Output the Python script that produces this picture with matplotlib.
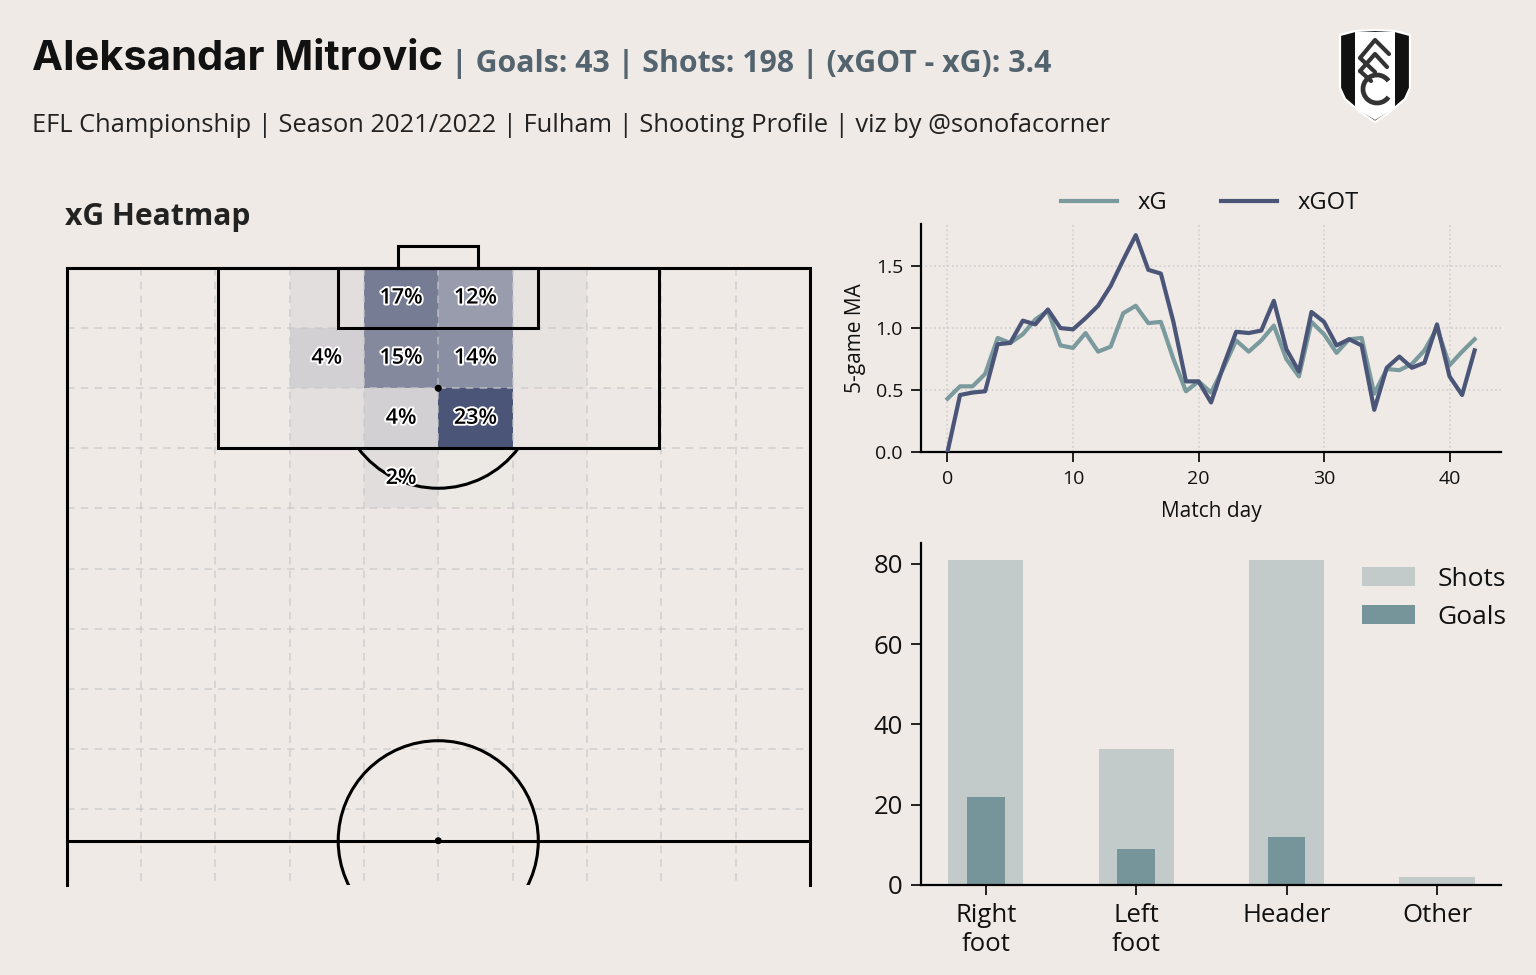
import numpy as np
import matplotlib.pyplot as plt
import matplotlib.patheffects as pe
from matplotlib.colors import LinearSegmentedColormap
from matplotlib.patches import Arc, Circle, Rectangle, Polygon

BG = "#efeae6"
DARK = "#4a5578"
TEAL = "#76959a"
LIGHT = "#c2cbca"
INK = "#111111"

match_day = list(range(43))
xg = [.43, .53, .53, .63, .92, .88, .95, 1.07, 1.14, .86, .84, .96, .81, .85, 1.12, 1.18, 1.04, 1.05, .75, .49, .57,
      .48, .68, .90, .81, .90, 1.02, .75, .61, 1.05, .95, .80, .91, .92, .47, .67, .66, .71, .82, 1.0, .70, .81, .91]
xgot = [0, .46, .48, .49, .87, .88, 1.06, 1.03, 1.15, 1.0, .99, 1.08, 1.18, 1.34, 1.55, 1.75, 1.47, 1.44, 1.05, .57, .57,
        .40, .70, .97, .96, .98, 1.22, .83, .65, 1.13, 1.05, .86, .91, .86, .34, .68, .77, .68, .72, 1.03, .61, .46, .82]

body_parts = ["Right\nfoot", "Left\nfoot", "Header", "Other"]
shots = [81, 34, 81, 2]
goals = [22, 9, 12, 0]

# share of xG per zone, rows go away from goal, columns left to right
heat = [
    [0, 0, 0, 1.9, 17, 12, 1.3, 0, 0, 0],
    [0, 0, 0, 4, 15, 14, 1.1, 0, 0, 0],
    [0, 0, 0, 1.7, 4, 23, 0.8, 0.3, 0, 0],
    [0, 0, 0, 0.6, 2.0, 0.4, 0.5, 0, 0, 0],
    [0, 0, 0.3, 0.3, 0.5, 0.1, 0, 0, 0, 0],
    [0, 0, 0.1, 0.1, 0.1, 0.1, 0.1, 0, 0, 0],
    [0, 0, 0, 0, 0, 0, 0, 0, 0, 0],
    [0, 0, 0, 0, 0, 0, 0, 0, 0, 0],
    [0, 0, 0, 0, 0, 0, 0, 0, 0, 0],
    [0, 0, 0, 0, 0, 0, 0, 0, 0, 0],
]
pitch_w = 68
pitch_h = 56.45
col_w = 6.8
row_h = 5.5

W, H = 1536, 975
plt.rcParams["font.family"] = ["Open Sans", "DejaVu Sans"]
plt.rcParams["text.color"] = INK
plt.rcParams["axes.labelcolor"] = INK
plt.rcParams["xtick.color"] = INK
plt.rcParams["ytick.color"] = INK

fig = plt.figure(figsize=(W / 100, H / 100), dpi=100, facecolor=BG)


def box(left, top, right, bottom):
    return [left / W, 1 - bottom / H, (right - left) / W, (bottom - top) / H]


def head(x, y, s, **kw):
    fig.text(x / W, 1 - y / H, s, va="baseline", **kw)


head(32, 70, "Aleksandar Mitrovic", fontsize=30, fontweight="bold", family=["Inter", "DejaVu Sans"], color="#111111")
head(451, 72, "| Goals: 43 | Shots: 198 | (xGOT - xG): 3.4", fontsize=21.8, fontweight="bold", family=["Open Sans"], color="#53646f")
head(32, 132, "EFL Championship | Season 2021/2022 | Fulham | Shooting Profile | viz by @sonofacorner", fontsize=18.37, family=["Open Sans"], color="#222222")
head(65, 225, "xG Heatmap", fontsize=21.6, fontweight="bold", family=["Open Sans"], color="#222222")

# pitch
ax = fig.add_axes(box(66.5, 268, 810, 885))
ax.set_facecolor("none")
ax.set_xlim(0, pitch_w)
ax.set_ylim(pitch_h, 0)
ax.axis("off")

cmap = LinearSegmentedColormap.from_list("heat", [BG, DARK])
x_edges = np.arange(11) * col_w
y_edges = np.arange(11) * row_h
ax.pcolormesh(x_edges, y_edges, np.array(heat), cmap=cmap, vmin=0, vmax=23, zorder=1)

ax.vlines(x_edges[1:-1], 0, pitch_h, color="#c9c9c9", lw=1.1, ls=(0, (5, 4)), alpha=.8, zorder=2)
ax.hlines(y_edges[1:10], 0, pitch_w, color="#c9c9c9", lw=1.1, ls=(0, (5, 4)), alpha=.8, zorder=2)

lw = 2.2
line = dict(fill=False, ec="black", lw=lw, zorder=3, clip_on=False)
mid = pitch_w / 2
ax.add_patch(Rectangle((0, 0), pitch_w, 52.4, **line))
ax.plot([0, 0], [52.4, pitch_h], color="black", lw=lw, zorder=3, clip_on=False)
ax.plot([pitch_w, pitch_w], [52.4, pitch_h], color="black", lw=lw, zorder=3, clip_on=False)
ax.add_patch(Rectangle((mid - 20.16, 0), 40.32, 16.5, **line))
ax.add_patch(Rectangle((mid - 9.16, 0), 18.32, 5.5, **line))
ax.add_patch(Rectangle((mid - 3.66, -2), 7.32, 2, **line))
ax.add_patch(Arc((mid, 11), 18.3, 18.3, theta1=37, theta2=143, ec="black", lw=lw, zorder=3))
ax.add_patch(Circle((mid, 52.4), 9.15, fill=False, ec="black", lw=lw, zorder=3))
ax.add_patch(Circle((mid, 11), .32, fc="black", ec="none", zorder=3))
ax.add_patch(Circle((mid, 52.4), .32, fc="black", ec="none", zorder=3))

heat_arr = np.array(heat)
for r, c in zip(*np.nonzero(heat_arr >= 2)):
    ax.text((c + .5) * col_w, (r + .5) * row_h, f"{heat_arr[r, c]:.0f}%", ha="center", va="center",
            fontsize=15.5, fontweight="semibold", family=["Open Sans"], color="black", zorder=5,
            path_effects=[pe.withStroke(linewidth=2.8, foreground="white")])

# moving average
ax2 = fig.add_axes(box(921, 224, 1501, 452))
ax2.set_facecolor("none")
ax2.plot(match_day, xg, color="#7a9a9d", lw=3, label="xG", zorder=3)
ax2.plot(match_day, xgot, color=DARK, lw=3, label="xGOT", zorder=3)
ax2.set_xlim(-2.11, 44.1)
ax2.set_ylim(0, 1.84)
ax2.set_yticks([0, .5, 1, 1.5])
ax2.set_xticks([0, 10, 20, 30, 40])
ax2.grid(color="#cfcfcf", ls=":", lw=1.2)
ax2.set_axisbelow(True)
ax2.tick_params(labelsize=14, length=7, width=1.3, pad=6)
ax2.set_xlabel("Match day", fontsize=15, labelpad=9)
ax2.set_ylabel("5-game MA", fontsize=15, labelpad=7)
ax2.legend(loc="lower center", bbox_to_anchor=(.498, .945), ncol=2, frameon=False, fontsize=17,
           handlelength=2.37, columnspacing=2.3, handletextpad=.85)

# shots and goals
ax3 = fig.add_axes(box(921, 543, 1501, 885))
ax3.set_facecolor("none")
ax3.bar(range(4), shots, width=.5, color=LIGHT, label="Shots")
ax3.bar(range(4), goals, width=.25, color=TEAL, label="Goals")
ax3.set_xlim(-.43, 3.425)
ax3.set_ylim(0, 85.2)
ax3.set_xticks(range(4))
ax3.set_xticklabels(body_parts)
ax3.set_yticks([0, 20, 40, 60, 80])
ax3.tick_params(labelsize=18.5, length=7, width=1.3, pad=6)
ax3.legend(loc="upper right", bbox_to_anchor=(1.05, 1.0), frameon=False, fontsize=19, handlelength=2,
           handletextpad=.85, labelspacing=.5)

for a in (ax2, ax3):
    a.spines[["top", "right"]].set_visible(False)
    a.spines[["left", "bottom"]].set_linewidth(1.6)

# club badge
crest = fig.add_axes(box(1335, 25, 1417, 125))
crest.set_xlim(0, 82)
crest.set_ylim(100, 0)
crest.axis("off")
shield = [(5, 10), (20, 6), (40, 5), (60, 6), (75, 10), (75, 63), (70, 74), (56, 86), (40, 97), (24, 86), (10, 74), (5, 63)]
crest.add_patch(Polygon(shield, fc="#111111", ec="white", lw=1.6, joinstyle="round"))
crest.add_patch(Polygon([(20, 7), (60, 7), (60, 83), (40, 95), (20, 83)], fc="white", ec="none"))
mono = dict(color="#333333", lw=3, solid_capstyle="round", solid_joinstyle="round")
crest.plot([54, 40, 25, 40], [29, 15, 33, 47], **mono)
crest.plot([52, 40, 25], [42, 29, 46], **mono)
crest.plot([25, 36], [46, 56], **mono)
crest.add_patch(Arc((42, 64), 28, 28, theta1=35, theta2=325, ec="#333333", lw=3.4))

fig.savefig("out.png", dpi=100, facecolor=BG)
